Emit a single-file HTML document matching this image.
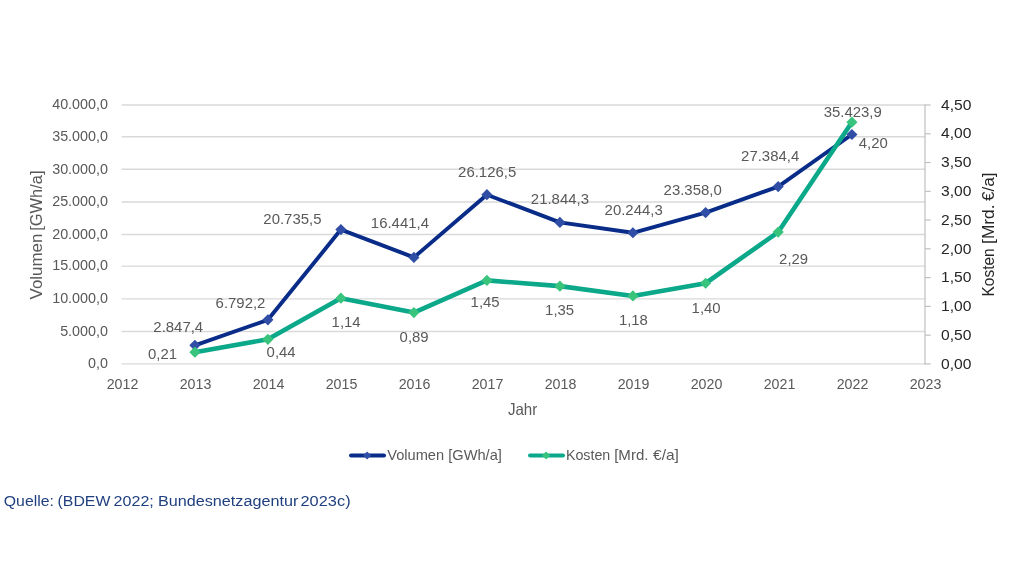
<!DOCTYPE html>
<html lang="de">
<head>
<meta charset="utf-8">
<title>Volumen und Kosten</title>
<style>
html,body{margin:0;padding:0;background:#fff;}
body{width:1024px;height:576px;overflow:hidden;}
svg{display:block;font-family:"Liberation Sans", sans-serif;}
</style>
</head>
<body>
<svg width="1024" height="576" viewBox="0 0 1024 576">
<rect width="1024" height="576" fill="#ffffff"/>
<line x1="121.5" y1="363.90" x2="925" y2="363.90" stroke="#d9d9d9" stroke-width="1.4"/>
<line x1="121.5" y1="331.50" x2="925" y2="331.50" stroke="#d9d9d9" stroke-width="1.4"/>
<line x1="121.5" y1="298.90" x2="925" y2="298.90" stroke="#d9d9d9" stroke-width="1.4"/>
<line x1="121.5" y1="266.10" x2="925" y2="266.10" stroke="#d9d9d9" stroke-width="1.4"/>
<line x1="121.5" y1="234.50" x2="925" y2="234.50" stroke="#d9d9d9" stroke-width="1.4"/>
<line x1="121.5" y1="202.00" x2="925" y2="202.00" stroke="#d9d9d9" stroke-width="1.4"/>
<line x1="121.5" y1="169.25" x2="925" y2="169.25" stroke="#d9d9d9" stroke-width="1.4"/>
<line x1="121.5" y1="136.80" x2="925" y2="136.80" stroke="#d9d9d9" stroke-width="1.4"/>
<line x1="121.5" y1="105.00" x2="925" y2="105.00" stroke="#d9d9d9" stroke-width="1.4"/>
<line x1="925" y1="104.50" x2="925" y2="364.40" stroke="#bfbfbf" stroke-width="1.2"/>
<line x1="925" y1="363.90" x2="930.6" y2="363.90" stroke="#bfbfbf" stroke-width="1.2"/>
<line x1="925" y1="335.13" x2="930.6" y2="335.13" stroke="#bfbfbf" stroke-width="1.2"/>
<line x1="925" y1="306.37" x2="930.6" y2="306.37" stroke="#bfbfbf" stroke-width="1.2"/>
<line x1="925" y1="277.60" x2="930.6" y2="277.60" stroke="#bfbfbf" stroke-width="1.2"/>
<line x1="925" y1="248.83" x2="930.6" y2="248.83" stroke="#bfbfbf" stroke-width="1.2"/>
<line x1="925" y1="220.07" x2="930.6" y2="220.07" stroke="#bfbfbf" stroke-width="1.2"/>
<line x1="925" y1="191.30" x2="930.6" y2="191.30" stroke="#bfbfbf" stroke-width="1.2"/>
<line x1="925" y1="162.53" x2="930.6" y2="162.53" stroke="#bfbfbf" stroke-width="1.2"/>
<line x1="925" y1="133.77" x2="930.6" y2="133.77" stroke="#bfbfbf" stroke-width="1.2"/>
<line x1="925" y1="105.00" x2="930.6" y2="105.00" stroke="#bfbfbf" stroke-width="1.2"/>
<text x="88.09" y="368.40" font-size="15.54" fill="#595959" textLength="19.91" lengthAdjust="spacingAndGlyphs">0,0</text>
<text x="60.15" y="336.00" font-size="15.54" fill="#595959" textLength="47.85" lengthAdjust="spacingAndGlyphs">5.000,0</text>
<text x="52.16" y="303.30" font-size="15.54" fill="#595959" textLength="55.84" lengthAdjust="spacingAndGlyphs">10.000,0</text>
<text x="52.16" y="270.40" font-size="15.54" fill="#595959" textLength="55.84" lengthAdjust="spacingAndGlyphs">15.000,0</text>
<text x="52.16" y="238.70" font-size="15.54" fill="#595959" textLength="55.84" lengthAdjust="spacingAndGlyphs">20.000,0</text>
<text x="52.16" y="205.80" font-size="15.54" fill="#595959" textLength="55.84" lengthAdjust="spacingAndGlyphs">25.000,0</text>
<text x="52.16" y="173.75" font-size="15.54" fill="#595959" textLength="55.84" lengthAdjust="spacingAndGlyphs">30.000,0</text>
<text x="52.16" y="141.10" font-size="15.54" fill="#595959" textLength="55.84" lengthAdjust="spacingAndGlyphs">35.000,0</text>
<text x="52.16" y="109.00" font-size="15.54" fill="#595959" textLength="55.84" lengthAdjust="spacingAndGlyphs">40.000,0</text>
<text x="941.00" y="368.60" font-size="15.55" fill="#262626" textLength="30.37" lengthAdjust="spacingAndGlyphs">0,00</text>
<text x="941.00" y="339.83" font-size="15.55" fill="#262626" textLength="30.37" lengthAdjust="spacingAndGlyphs">0,50</text>
<text x="941.00" y="311.07" font-size="15.55" fill="#262626" textLength="30.37" lengthAdjust="spacingAndGlyphs">1,00</text>
<text x="941.00" y="282.30" font-size="15.55" fill="#262626" textLength="30.37" lengthAdjust="spacingAndGlyphs">1,50</text>
<text x="941.00" y="253.53" font-size="15.55" fill="#262626" textLength="30.37" lengthAdjust="spacingAndGlyphs">2,00</text>
<text x="941.00" y="224.77" font-size="15.55" fill="#262626" textLength="30.37" lengthAdjust="spacingAndGlyphs">2,50</text>
<text x="941.00" y="196.00" font-size="15.55" fill="#262626" textLength="30.37" lengthAdjust="spacingAndGlyphs">3,00</text>
<text x="941.00" y="167.23" font-size="15.55" fill="#262626" textLength="30.37" lengthAdjust="spacingAndGlyphs">3,50</text>
<text x="941.00" y="138.47" font-size="15.55" fill="#262626" textLength="30.37" lengthAdjust="spacingAndGlyphs">4,00</text>
<text x="941.00" y="110.20" font-size="15.55" fill="#262626" textLength="30.37" lengthAdjust="spacingAndGlyphs">4,50</text>
<text x="106.69" y="388.60" font-size="15.54" fill="#595959" textLength="31.63" lengthAdjust="spacingAndGlyphs">2012</text>
<text x="179.69" y="388.60" font-size="15.54" fill="#595959" textLength="31.63" lengthAdjust="spacingAndGlyphs">2013</text>
<text x="252.69" y="388.60" font-size="15.54" fill="#595959" textLength="31.63" lengthAdjust="spacingAndGlyphs">2014</text>
<text x="325.69" y="388.60" font-size="15.54" fill="#595959" textLength="31.63" lengthAdjust="spacingAndGlyphs">2015</text>
<text x="398.69" y="388.60" font-size="15.54" fill="#595959" textLength="31.63" lengthAdjust="spacingAndGlyphs">2016</text>
<text x="471.69" y="388.60" font-size="15.54" fill="#595959" textLength="31.63" lengthAdjust="spacingAndGlyphs">2017</text>
<text x="544.69" y="388.60" font-size="15.54" fill="#595959" textLength="31.63" lengthAdjust="spacingAndGlyphs">2018</text>
<text x="617.69" y="388.60" font-size="15.54" fill="#595959" textLength="31.63" lengthAdjust="spacingAndGlyphs">2019</text>
<text x="690.69" y="388.60" font-size="15.54" fill="#595959" textLength="31.63" lengthAdjust="spacingAndGlyphs">2020</text>
<text x="763.69" y="388.60" font-size="15.54" fill="#595959" textLength="31.63" lengthAdjust="spacingAndGlyphs">2021</text>
<text x="836.69" y="388.60" font-size="15.54" fill="#595959" textLength="31.63" lengthAdjust="spacingAndGlyphs">2022</text>
<text x="909.69" y="388.60" font-size="15.54" fill="#595959" textLength="31.63" lengthAdjust="spacingAndGlyphs">2023</text>
<text x="507.89" y="415.00" font-size="16.28" fill="#595959" textLength="29.43" lengthAdjust="spacingAndGlyphs">Jahr</text>
<text transform="translate(42.4 0) rotate(-90)" y="0" font-size="15.63" fill="#595959"><tspan x="-299.40" textLength="65.70" lengthAdjust="spacingAndGlyphs">Volumen</tspan> <tspan x="-230.80" textLength="60.30" lengthAdjust="spacingAndGlyphs">[GWh/a]</tspan></text>
<text transform="translate(994 0) rotate(-90)" y="0" font-size="15.63" fill="#262626"><tspan x="-296.50" textLength="48.20" lengthAdjust="spacingAndGlyphs">Kosten</tspan> <tspan x="-243.90" textLength="39.40" lengthAdjust="spacingAndGlyphs">[Mrd.</tspan> <tspan x="-200.90" textLength="28.50" lengthAdjust="spacingAndGlyphs">€/a]</tspan></text>
<polyline points="194.90,345.37 267.90,319.84 340.90,229.59 413.90,257.38 486.90,194.70 559.90,222.41 632.90,232.77 705.60,212.62 778.20,186.55 851.90,134.52" fill="none" stroke="#082c88" stroke-width="3.9" stroke-linejoin="round" stroke-linecap="round"/>
<path d="M189.30 345.37L194.90 339.77L200.50 345.37L194.90 350.97Z" fill="#304ea6"/>
<path d="M262.30 319.84L267.90 314.24L273.50 319.84L267.90 325.44Z" fill="#304ea6"/>
<path d="M335.30 229.59L340.90 223.99L346.50 229.59L340.90 235.19Z" fill="#304ea6"/>
<path d="M408.30 257.38L413.90 251.78L419.50 257.38L413.90 262.98Z" fill="#304ea6"/>
<path d="M481.30 194.70L486.90 189.10L492.50 194.70L486.90 200.30Z" fill="#304ea6"/>
<path d="M554.30 222.41L559.90 216.81L565.50 222.41L559.90 228.01Z" fill="#304ea6"/>
<path d="M627.30 232.77L632.90 227.17L638.50 232.77L632.90 238.37Z" fill="#304ea6"/>
<path d="M700.00 212.62L705.60 207.02L711.20 212.62L705.60 218.22Z" fill="#304ea6"/>
<path d="M772.60 186.55L778.20 180.95L783.80 186.55L778.20 192.15Z" fill="#304ea6"/>
<path d="M846.30 134.52L851.90 128.92L857.50 134.52L851.90 140.12Z" fill="#304ea6"/>
<polyline points="194.90,352.22 267.90,339.29 340.90,298.21 413.90,312.60 486.90,280.38 559.90,286.13 632.90,295.91 705.60,283.25 778.20,232.05 851.90,122.16" fill="none" stroke="#0ba88a" stroke-width="4.6" stroke-linejoin="round" stroke-linecap="round"/>
<path d="M189.30 352.22L194.90 346.62L200.50 352.22L194.90 357.82Z" fill="#38c47c"/>
<path d="M262.30 339.29L267.90 333.69L273.50 339.29L267.90 344.89Z" fill="#38c47c"/>
<path d="M335.30 298.21L340.90 292.61L346.50 298.21L340.90 303.81Z" fill="#38c47c"/>
<path d="M408.30 312.60L413.90 307.00L419.50 312.60L413.90 318.20Z" fill="#38c47c"/>
<path d="M481.30 280.38L486.90 274.78L492.50 280.38L486.90 285.98Z" fill="#38c47c"/>
<path d="M554.30 286.13L559.90 280.53L565.50 286.13L559.90 291.73Z" fill="#38c47c"/>
<path d="M627.30 295.91L632.90 290.31L638.50 295.91L632.90 301.51Z" fill="#38c47c"/>
<path d="M700.00 283.25L705.60 277.65L711.20 283.25L705.60 288.85Z" fill="#38c47c"/>
<path d="M772.60 232.05L778.20 226.45L783.80 232.05L778.20 237.65Z" fill="#38c47c"/>
<path d="M846.30 122.16L851.90 116.56L857.50 122.16L851.90 127.76Z" fill="#38c47c"/>
<text x="153.35" y="331.80" font-size="14.80" fill="#595959" textLength="49.79" lengthAdjust="spacingAndGlyphs">2.847,4</text>
<text x="215.60" y="307.90" font-size="14.80" fill="#595959" textLength="49.79" lengthAdjust="spacingAndGlyphs">6.792,2</text>
<text x="263.35" y="224.40" font-size="14.80" fill="#595959" textLength="58.10" lengthAdjust="spacingAndGlyphs">20.735,5</text>
<text x="370.85" y="227.90" font-size="14.80" fill="#595959" textLength="58.10" lengthAdjust="spacingAndGlyphs">16.441,4</text>
<text x="458.10" y="176.90" font-size="14.80" fill="#595959" textLength="58.10" lengthAdjust="spacingAndGlyphs">26.126,5</text>
<text x="530.85" y="204.40" font-size="14.80" fill="#595959" textLength="58.10" lengthAdjust="spacingAndGlyphs">21.844,3</text>
<text x="604.60" y="214.90" font-size="14.80" fill="#595959" textLength="58.10" lengthAdjust="spacingAndGlyphs">20.244,3</text>
<text x="663.60" y="194.90" font-size="14.80" fill="#595959" textLength="58.10" lengthAdjust="spacingAndGlyphs">23.358,0</text>
<text x="741.10" y="161.20" font-size="14.80" fill="#595959" textLength="58.10" lengthAdjust="spacingAndGlyphs">27.384,4</text>
<text x="823.70" y="116.65" font-size="14.80" fill="#595959" textLength="58.10" lengthAdjust="spacingAndGlyphs">35.423,9</text>
<text x="148.00" y="358.70" font-size="14.80" fill="#595959" textLength="29.03" lengthAdjust="spacingAndGlyphs">0,21</text>
<text x="266.60" y="356.90" font-size="14.80" fill="#595959" textLength="29.03" lengthAdjust="spacingAndGlyphs">0,44</text>
<text x="331.60" y="326.90" font-size="14.80" fill="#595959" textLength="29.03" lengthAdjust="spacingAndGlyphs">1,14</text>
<text x="399.60" y="342.00" font-size="14.80" fill="#595959" textLength="29.03" lengthAdjust="spacingAndGlyphs">0,89</text>
<text x="470.60" y="307.40" font-size="14.80" fill="#595959" textLength="29.03" lengthAdjust="spacingAndGlyphs">1,45</text>
<text x="545.10" y="314.90" font-size="14.80" fill="#595959" textLength="29.03" lengthAdjust="spacingAndGlyphs">1,35</text>
<text x="618.90" y="324.70" font-size="14.80" fill="#595959" textLength="29.03" lengthAdjust="spacingAndGlyphs">1,18</text>
<text x="691.60" y="312.80" font-size="14.80" fill="#595959" textLength="29.03" lengthAdjust="spacingAndGlyphs">1,40</text>
<text x="779.10" y="263.65" font-size="14.80" fill="#595959" textLength="29.03" lengthAdjust="spacingAndGlyphs">2,29</text>
<text x="858.80" y="148.35" font-size="14.80" fill="#595959" textLength="29.03" lengthAdjust="spacingAndGlyphs">4,20</text>
<line x1="351" y1="455.4" x2="384" y2="455.4" stroke="#082c88" stroke-width="4" stroke-linecap="round"/>
<path d="M363.10 455.40L367.10 451.40L371.10 455.40L367.10 459.40Z" fill="#304ea6"/>
<text x="387.20" y="460.25" font-size="14.36" fill="#595959" textLength="114.71" lengthAdjust="spacingAndGlyphs">Volumen [GWh/a]</text>
<line x1="530" y1="455.4" x2="563" y2="455.4" stroke="#0ba88a" stroke-width="4" stroke-linecap="round"/>
<path d="M542.10 455.40L546.10 451.40L550.10 455.40L546.10 459.40Z" fill="#38c47c"/>
<text y="460.25" font-size="14.36" fill="#595959"><tspan x="565.90" textLength="44.40" lengthAdjust="spacingAndGlyphs">Kosten</tspan> <tspan x="614.20" textLength="34.30" lengthAdjust="spacingAndGlyphs">[Mrd.</tspan> <tspan x="653.10" textLength="25.80" lengthAdjust="spacingAndGlyphs">€/a]</tspan></text>
<text y="506" font-size="15.2" fill="#1f3f7f"><tspan x="3.80" textLength="50.10" lengthAdjust="spacingAndGlyphs">Quelle:</tspan> <tspan x="57.60" textLength="52.80" lengthAdjust="spacingAndGlyphs">(BDEW</tspan> <tspan x="113.60" textLength="40.20" lengthAdjust="spacingAndGlyphs">2022;</tspan> <tspan x="158.00" textLength="140.30" lengthAdjust="spacingAndGlyphs">Bundesnetzagentur</tspan> <tspan x="300.50" textLength="50.10" lengthAdjust="spacingAndGlyphs">2023c)</tspan></text>
</svg>
</body>
</html>
